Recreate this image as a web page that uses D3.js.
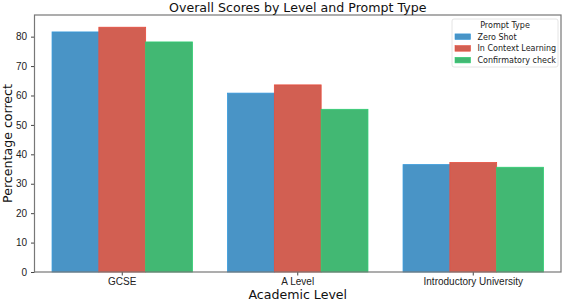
<!DOCTYPE html>
<html>
<head>
<meta charset="utf-8">
<script src="https://cdn.jsdelivr.net/npm/d3@7"></script>
<style>
  body { margin: 0; background: #fff; }
  svg { font-family: "DejaVu Sans", sans-serif; }
</style>
</head>
<body>
<div id="chart"></div>
<script>
const levels = ["GCSE", "A Level", "Introductory University"];
const promptTypes = ["Zero Shot", "In Context Learning", "Confirmatory check"];
const zeroShot = [81.6, 60.8, 36.5];
const inContext = [83.2, 63.6, 37.2];
const confirmatory = [78.2, 55.3, 35.6];
const yTicks = [0, 10, 20, 30, 40, 50, 60, 70, 80];

const series = [zeroShot, inContext, confirmatory];
const fills = ["#4994c6", "#d25f52", "#42b873"];
const edges = ["#3498db", "#e74c3c", "#2ecc71"];

const width = 563, height = 301;
const margin = { top: 15, right: 2, bottom: 29, left: 34.5 };

const svg = d3.select("#chart").append("svg").attr("width", width).attr("height", height);

const x = d3.scaleBand().domain(levels).range([margin.left, width - margin.right]).paddingInner(0.2).paddingOuter(0.1);
const x1 = d3.scaleBand().domain(promptTypes).range([0, x.bandwidth()]);
const maxVal = d3.max(series.flat());
const y = d3.scaleLinear().domain([0, maxVal * 1.05]).range([height - margin.bottom, margin.top]);

// bars
const data = [];
levels.forEach((lev, i) => {
  promptTypes.forEach((p, j) => data.push({ level: lev, type: p, value: series[j][i], j }));
});

svg.append("g").selectAll("rect").data(data).enter().append("rect")
  .attr("x", (d) => x(d.level) + x1(d.type))
  .attr("y", (d) => y(d.value))
  .attr("width", x1.bandwidth())
  .attr("height", (d) => y(0) - y(d.value))
  .attr("fill", (d) => fills[d.j])
  .attr("stroke", (d) => edges[d.j])
  .attr("stroke-width", 0.8);

// axes
const xAxis = svg.append("g")
  .attr("transform", `translate(0,${height - margin.bottom})`)
  .call(d3.axisBottom(x).tickSizeOuter(0).tickSize(3.5));
xAxis.selectAll("text").attr("font-size", 10).attr("fill", "#222").attr("y", 6).attr("dy", "0.71em");

const yAxis = svg.append("g")
  .attr("transform", `translate(${margin.left},0)`)
  .call(d3.axisLeft(y).tickValues(yTicks).tickSizeOuter(0).tickSize(3.5));
yAxis.selectAll("text").attr("font-size", 10).attr("fill", "#222").attr("dx", "-0.1em");

svg.selectAll(".domain").remove();
svg.selectAll(".tick line").attr("stroke", "#444");

// frame
svg.append("rect")
  .attr("x", margin.left).attr("y", margin.top)
  .attr("width", width - margin.right - margin.left)
  .attr("height", height - margin.bottom - margin.top)
  .attr("fill", "none").attr("stroke", "#777").attr("stroke-width", 1.2);

// title & labels
svg.append("text").attr("x", (margin.left + width - margin.right) / 2).attr("y", 11.5)
  .attr("text-anchor", "middle").attr("font-size", 12.6).attr("fill", "#111")
  .text("Overall Scores by Level and Prompt Type");

svg.append("text").attr("x", (margin.left + width - margin.right) / 2).attr("y", 299)
  .attr("text-anchor", "middle").attr("font-size", 12.6).attr("fill", "#111")
  .text("Academic Level");

svg.append("text")
  .attr("transform", `translate(12,${(margin.top + height - margin.bottom) / 2}) rotate(-90)`)
  .attr("text-anchor", "middle").attr("font-size", 12.6).attr("fill", "#111")
  .text("Percentage correct");

// legend
const lg = svg.append("g").attr("transform", "translate(452,19)");
lg.append("rect").attr("width", 106).attr("height", 48).attr("rx", 2)
  .attr("fill", "#fff").attr("fill-opacity", 0.8).attr("stroke", "#ddd").attr("stroke-width", 0.8);
lg.append("text").attr("x", 53).attr("y", 8.8).attr("text-anchor", "middle")
  .attr("font-size", 8).attr("fill", "#222").text("Prompt Type");
promptTypes.forEach((p, j) => {
  const row = lg.append("g").attr("transform", `translate(3,${17.7 + j * 11.7})`);
  row.append("rect").attr("x", 0).attr("y", -2.8).attr("width", 15.5).attr("height", 5.6)
    .attr("fill", fills[j]).attr("stroke", edges[j]).attr("stroke-width", 0.6);
  row.append("text").attr("x", 22.5).attr("y", 2.8).attr("font-size", 8).attr("fill", "#222").text(p);
});
</script>
</body>
</html>
